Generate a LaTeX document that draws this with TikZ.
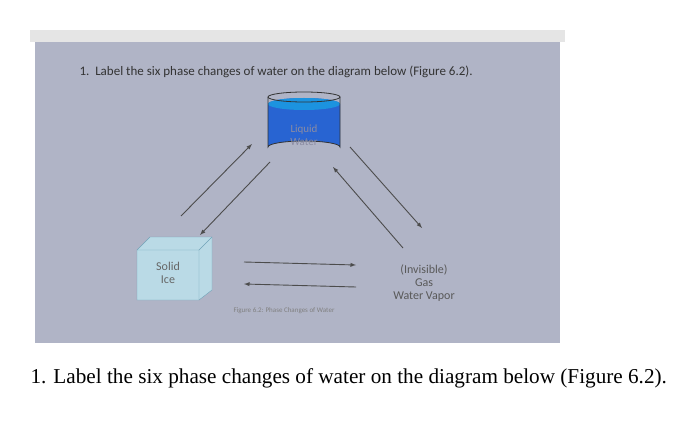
\documentclass[tikz,border=0pt]{standalone}
\usepackage{fontspec}
\setmainfont{Carlito}
\newfontfamily\serifx{Liberation Serif}
\definecolor{screen}{RGB}{176,180,198}
\definecolor{waterc}{RGB}{40,100,210}
\begin{document}
\begin{tikzpicture}[x=1pt,y=-1pt,
  arr/.style={draw=black!70,line width=0.9pt,-latex},
  lbl/.style={font=\fontsize{12}{13}\selectfont,text=black!60,align=center}]
\useasboundingbox (0,0) rectangle (700,441);
\fill[white] (0,0) rectangle (700,441);
\fill[black!10] (30,30) rectangle (565,42);
\fill[screen] (35,42) rectangle (560,343);
\node[anchor=west,font=\fontsize{13}{14}\selectfont,text=black!80] (title) at (76,72) {1.\ \ Label the six phase changes of water on the diagram below (Figure 6.2).};
% cylinder
\fill[waterc] (268,104) -- (268,147) arc[start angle=180,end angle=360,x radius=36,y radius=6] -- (340,104) arc[start angle=0,end angle=-180,x radius=36,y radius=6] -- cycle;
\fill[waterc!70!cyan] (304,104) ellipse[x radius=36,y radius=6];
\draw[black!80,line width=0.8pt] (268,97) -- (268,147) arc[start angle=180,end angle=360,x radius=36,y radius=6] -- (340,97);
\draw[black!80,line width=0.8pt] (304,97) ellipse[x radius=36,y radius=5];
\node[font=\fontsize{11}{13}\selectfont,text=blue!20!black!45,align=center] (liq) at (304,135) {Liquid\\Water};
% ice cube
\fill[cyan!25!white!80!gray,draw=cyan!40!gray] (137,250) -- (150,237) -- (212,237) -- (212,290) -- (199,300) -- (137,300) -- cycle;
\draw[cyan!40!gray] (137,250) -- (199,250) -- (212,237) (199,250) -- (199,300);
\node[lbl] (ice) at (168,273) {Solid\\Ice};
\node[lbl,text=black!65] (gas) at (424,283) {(Invisible)\\Gas\\Water Vapor};
\coordinate (a1) at (181,216); \coordinate (a2) at (252,144);
\coordinate (b1) at (270,162); \coordinate (b2) at (200,235);
\coordinate (c1) at (403,248); \coordinate (c2) at (333,167);
\coordinate (d1) at (350,147); \coordinate (d2) at (422,228);
\coordinate (e1) at (244,262); \coordinate (e2) at (356,265);
\coordinate (f1) at (356,287); \coordinate (f2) at (244,284);
\draw[arr] (a1) -- (a2); \draw[arr] (b1) -- (b2);
\draw[arr] (c1) -- (c2); \draw[arr] (d1) -- (d2);
\draw[arr] (e1) -- (e2); \draw[arr] (f1) -- (f2);
\node[font=\fontsize{7}{8}\selectfont,text=black!50] (cap) at (284,311) {Figure 6.2: Phase Changes of Water};
\node[anchor=west,font=\serifx\fontsize{21.2}{24}\selectfont] (bottom) at (27,378) {1. Label the six phase changes of water on the diagram below (Figure 6.2).};
\end{tikzpicture}
\end{document}
